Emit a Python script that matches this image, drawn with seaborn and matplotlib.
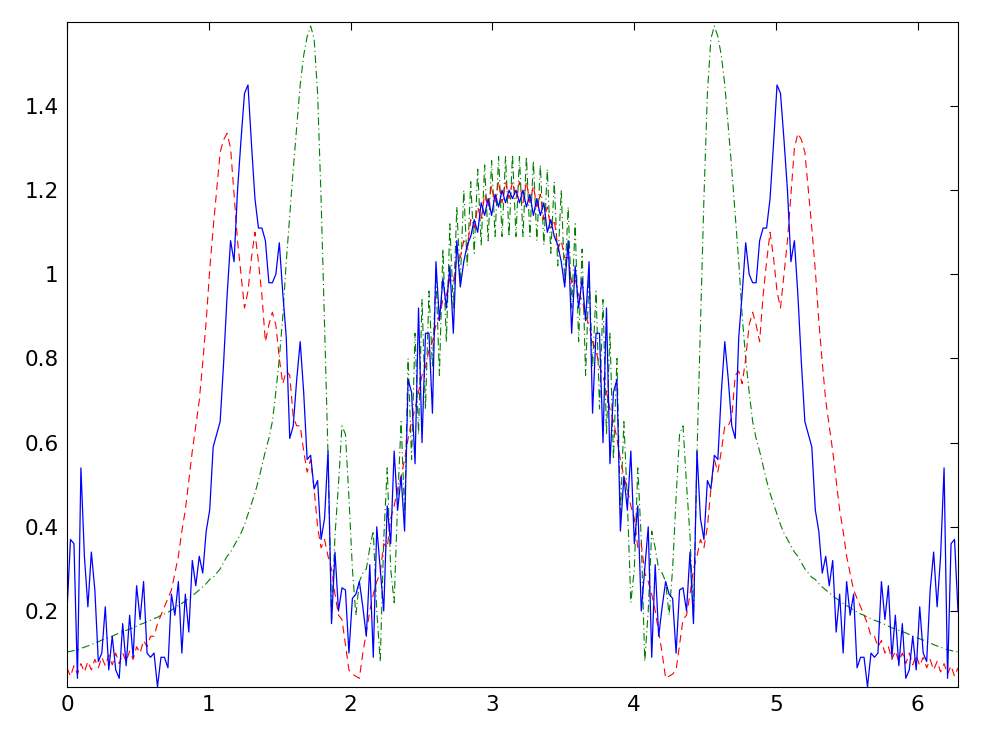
import numpy as np
import pandas as pd
import matplotlib
matplotlib.use("Agg")
import matplotlib.pyplot as plt
import seaborn as sns
from matplotlib.ticker import FixedLocator, FuncFormatter

# ---- data (257 samples on [0, 2*pi]) ----
blue_left = [
    0.20, 0.37, 0.36, 0.04, 0.54, 0.33, 0.21, 0.34, 0.25, 0.08,
    0.10, 0.21, 0.06, 0.14, 0.06, 0.04, 0.17, 0.07, 0.19, 0.09,
    0.26, 0.18, 0.27, 0.10, 0.09, 0.10, 0.02, 0.09, 0.09, 0.065,
    0.24, 0.19, 0.27, 0.10, 0.24, 0.15, 0.32, 0.26, 0.33, 0.29,
    0.39, 0.44, 0.59, 0.62, 0.65, 0.79, 0.95, 1.08, 1.03, 1.20,
    1.32, 1.43, 1.45, 1.31, 1.18, 1.11, 1.11, 1.08, 0.98, 0.98,
    1.00, 1.075, 0.955, 0.85, 0.61, 0.64, 0.75, 0.84, 0.72, 0.56,
    0.57, 0.49, 0.51, 0.37, 0.42, 0.58, 0.17, 0.34, 0.20, 0.255,
    0.25, 0.10, 0.23, 0.24, 0.27, 0.21, 0.14, 0.31, 0.09, 0.40,
    0.30, 0.20, 0.45, 0.36, 0.58, 0.44, 0.52, 0.39, 0.75, 0.72,
    0.55, 0.92, 0.60, 0.86, 0.86, 0.67, 1.03, 0.89, 0.99, 0.92,
    1.02, 0.86, 1.08, 0.97, 1.03, 1.07, 1.09, 1.13, 1.10, 1.17,
    1.14, 1.18, 1.14, 1.19, 1.16, 1.20, 1.17, 1.20, 1.18,
]
blue_right = [
    1.20, 1.17, 1.20, 1.16, 1.19, 1.14, 1.18, 1.14,
    1.17, 1.10, 1.13, 1.09, 1.07, 1.03, 0.97, 1.08, 0.86, 1.02,
    0.92, 0.99, 0.89, 1.03, 0.67, 0.86, 0.86, 0.60, 0.92, 0.55,
    0.72, 0.75, 0.39, 0.52, 0.44, 0.58, 0.36, 0.45, 0.20, 0.30,
    0.40, 0.09, 0.31, 0.14, 0.21, 0.27, 0.24, 0.23, 0.10, 0.25,
    0.255, 0.20, 0.34, 0.17, 0.58, 0.42, 0.37, 0.51, 0.49, 0.57,
    0.56, 0.72, 0.84, 0.75, 0.64, 0.61, 0.85, 0.955, 1.075, 1.00,
    0.98, 0.98, 1.08, 1.11, 1.11, 1.18, 1.31, 1.45, 1.43, 1.32,
    1.20, 1.03, 1.08, 0.95, 0.79, 0.65, 0.62, 0.59, 0.44, 0.39,
    0.29, 0.33, 0.26, 0.32, 0.15, 0.24, 0.10, 0.27, 0.19, 0.24,
    0.065, 0.09, 0.09, 0.02, 0.10, 0.09, 0.10, 0.27, 0.18, 0.26,
    0.09, 0.19, 0.07, 0.17, 0.04, 0.06, 0.14, 0.06, 0.21, 0.10,
    0.08, 0.25, 0.34, 0.21, 0.33, 0.54, 0.04, 0.36, 0.37, 0.20,
]

red_left = [
    0.065, 0.045, 0.07, 0.05, 0.075, 0.055, 0.08, 0.06, 0.085, 0.065,
    0.09, 0.07, 0.095, 0.072, 0.10, 0.075, 0.10, 0.08, 0.105, 0.085,
    0.115, 0.10, 0.13, 0.115, 0.14, 0.14, 0.17, 0.19, 0.21, 0.23,
    0.25, 0.29, 0.33, 0.39, 0.44, 0.51, 0.58, 0.64, 0.70, 0.79,
    0.89, 1.01, 1.11, 1.20, 1.29, 1.32, 1.335, 1.30, 1.19, 1.08,
    1.00, 0.92, 0.96, 1.04, 1.10, 1.03, 0.95, 0.84, 0.88, 0.91,
    0.88, 0.80, 0.74, 0.77, 0.76, 0.66, 0.64, 0.64, 0.58, 0.53,
    0.56, 0.49, 0.40, 0.35, 0.37, 0.33, 0.30, 0.24, 0.19, 0.18,
    0.12, 0.06, 0.05, 0.045, 0.04, 0.10, 0.15, 0.20, 0.24, 0.27,
    0.29, 0.36, 0.35, 0.42, 0.45, 0.49, 0.52, 0.56, 0.61, 0.65,
    0.68, 0.72, 0.76, 0.78, 0.82, 0.84, 0.88, 0.90, 0.94, 0.95,
    0.99, 0.98, 1.04, 1.04, 1.08, 1.06, 1.13, 1.11, 1.16, 1.13,
    1.19, 1.16, 1.21, 1.17, 1.22, 1.17, 1.22, 1.18, 1.22,
]
red_right = [
    1.18, 1.22, 1.17, 1.22, 1.17, 1.21, 1.16, 1.19,
    1.13, 1.16, 1.11, 1.13, 1.06, 1.08, 1.04, 1.04, 0.98, 0.99,
    0.95, 0.94, 0.90, 0.88, 0.84, 0.82, 0.78, 0.76, 0.72, 0.68,
    0.65, 0.61, 0.56, 0.52, 0.49, 0.45, 0.42, 0.35, 0.36, 0.29,
    0.27, 0.24, 0.20, 0.15, 0.10, 0.04, 0.045, 0.05, 0.06, 0.12,
    0.18, 0.19, 0.24, 0.30, 0.33, 0.37, 0.35, 0.40, 0.49, 0.56,
    0.53, 0.58, 0.64, 0.64, 0.66, 0.76, 0.77, 0.74, 0.80, 0.88,
    0.91, 0.88, 0.84, 0.95, 1.03, 1.10, 1.04, 0.96, 0.92, 1.00,
    1.08, 1.19, 1.30, 1.335, 1.32, 1.29, 1.20, 1.11, 1.01, 0.89,
    0.79, 0.70, 0.64, 0.58, 0.51, 0.44, 0.39, 0.33, 0.29, 0.25,
    0.23, 0.21, 0.19, 0.17, 0.14, 0.14, 0.115, 0.13, 0.10, 0.115,
    0.085, 0.105, 0.08, 0.10, 0.075, 0.10, 0.072, 0.095, 0.07, 0.09,
    0.065, 0.085, 0.06, 0.08, 0.055, 0.075, 0.05, 0.07, 0.045, 0.065,
]

green_left = [
    0.103, 0.104, 0.106, 0.108, 0.111, 0.114, 0.117, 0.120, 0.124, 0.127,
    0.131, 0.134, 0.137, 0.140, 0.144, 0.148, 0.151, 0.154, 0.157, 0.160,
    0.164, 0.168, 0.171, 0.175, 0.178, 0.182, 0.185, 0.190, 0.193, 0.197,
    0.202, 0.208, 0.213, 0.218, 0.224, 0.230, 0.236, 0.243, 0.250, 0.257,
    0.265, 0.275, 0.280, 0.290, 0.300, 0.315, 0.330, 0.340, 0.355, 0.370,
    0.385, 0.405, 0.430, 0.455, 0.480, 0.510, 0.545, 0.580, 0.610, 0.650,
    0.72, 0.80, 0.90, 1.03, 1.14, 1.25, 1.35, 1.45, 1.52, 1.565,
    1.59, 1.56, 1.43, 1.18, 0.88, 0.57, 0.18, 0.38, 0.50, 0.64,
    0.62, 0.47, 0.30, 0.19, 0.27, 0.29, 0.30, 0.35, 0.39, 0.20,
    0.08, 0.37, 0.54, 0.30, 0.22, 0.46, 0.65, 0.43, 0.80, 0.56,
    0.86, 0.62, 0.94, 0.68, 0.96, 0.78, 1.00, 0.76, 1.06, 0.84,
    1.12, 0.92, 1.16, 0.98, 1.20, 1.02, 1.22, 1.05, 1.25, 1.07,
    1.26, 1.08, 1.27, 1.09, 1.28, 1.09, 1.28, 1.09, 1.285,
]
green_right = [
    1.09, 1.28, 1.09, 1.28, 1.09, 1.27, 1.08, 1.26,
    1.07, 1.25, 1.05, 1.22, 1.02, 1.20, 0.98, 1.16, 0.92, 1.12,
    0.84, 1.06, 0.76, 1.00, 0.78, 0.96, 0.68, 0.94, 0.62, 0.86,
    0.56, 0.80, 0.43, 0.65, 0.46, 0.22, 0.30, 0.54, 0.37, 0.08,
    0.20, 0.39, 0.35, 0.30, 0.29, 0.27, 0.19, 0.30, 0.47, 0.62,
    0.64, 0.50, 0.38, 0.18, 0.57, 0.88, 1.18, 1.43, 1.56, 1.59,
    1.565, 1.52, 1.45, 1.35, 1.25, 1.14, 1.03, 0.90, 0.80, 0.72,
    0.650, 0.610, 0.580, 0.545, 0.510, 0.480, 0.455, 0.430, 0.405, 0.385,
    0.370, 0.355, 0.340, 0.330, 0.315, 0.300, 0.290, 0.280, 0.275, 0.265,
    0.257, 0.250, 0.243, 0.236, 0.230, 0.224, 0.218, 0.213, 0.208, 0.202,
    0.197, 0.193, 0.190, 0.185, 0.182, 0.178, 0.175, 0.171, 0.168, 0.164,
    0.160, 0.157, 0.154, 0.151, 0.148, 0.144, 0.140, 0.137, 0.134, 0.131,
    0.127, 0.124, 0.120, 0.117, 0.114, 0.111, 0.108, 0.106, 0.104, 0.103,
]

x_ticks = [0, 1, 2, 3, 4, 5, 6]
y_ticks = [0.2, 0.4, 0.6, 0.8, 1.0, 1.2, 1.4]

blue = blue_left + blue_right
red = red_left + red_right
green = green_left + green_right
x = np.linspace(0, 2 * np.pi, len(blue))

df = pd.DataFrame({"x": x, "blue": blue, "red": red, "green": green})

# ---- figure ----
sns.set_style("white")
plt.rcParams["font.family"] = ["DejaVu Sans"]

fig = plt.figure(figsize=(9.81, 7.48), dpi=100)
ax = fig.add_axes([67 / 981, 61 / 748, 891 / 981, 665 / 748])

sns.lineplot(data=df, x="x", y="green", ax=ax, color=(0, 0.5, 0),
             linewidth=0.8, sort=False, estimator=None)
ax.lines[-1].set_dashes([7, 3, 1, 3])
sns.lineplot(data=df, x="x", y="red", ax=ax, color=(1, 0, 0),
             linewidth=0.8, sort=False, estimator=None)
ax.lines[-1].set_dashes([7, 4.5])
sns.lineplot(data=df, x="x", y="blue", ax=ax, color=(0, 0, 1),
             linewidth=0.9, sort=False, estimator=None)

ax.set_xlim(0, 2 * np.pi)
ax.set_ylim(0.0194, 1.5996)
ax.xaxis.set_major_locator(FixedLocator(x_ticks))
ax.yaxis.set_major_locator(FixedLocator(y_ticks))
ax.xaxis.set_major_formatter(FuncFormatter(lambda v, p: f"{v:g}"))
ax.yaxis.set_major_formatter(FuncFormatter(lambda v, p: f"{v:g}"))
ax.set_xlabel("")
ax.set_ylabel("")
ax.tick_params(direction="in", length=6, width=0.8, labelsize=15.5,
               top=True, right=True, pad=6, colors="black")
for s in ax.spines.values():
    s.set_visible(True)
    s.set_color("black")
    s.set_linewidth(0.8)

fig.savefig("out.png", dpi=100)
